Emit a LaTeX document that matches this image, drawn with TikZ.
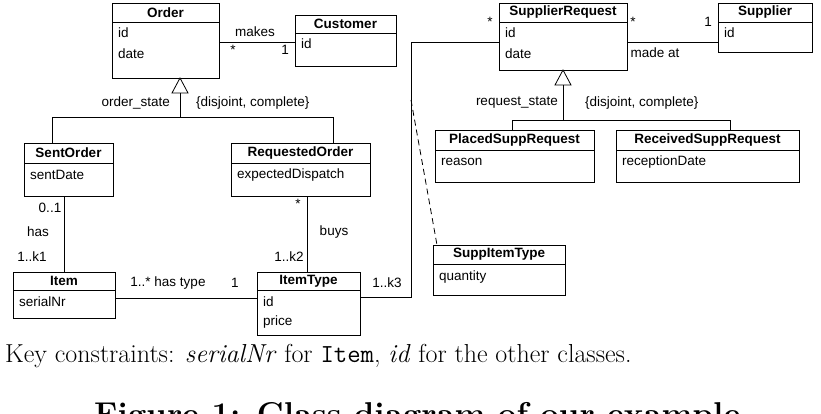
\documentclass[tikz,border=0pt]{standalone}
\usepackage{fontspec}
\setmainfont{Liberation Sans}
\newfontfamily\lmr{Latin Modern Roman}
\newfontfamily\lmtt{Latin Modern Mono}
\begin{document}
\begin{tikzpicture}[x=1pt,y=-1pt,
  box/.style={draw,line width=0.8pt},
  ttl/.style={font=\fontsize{13.5}{15}\selectfont\bfseries,anchor=center,inner sep=0},
  att/.style={font=\fontsize{13.5}{15}\selectfont,anchor=west,inner sep=0},
  lbl/.style={font=\fontsize{13.5}{15}\selectfont,inner sep=0},
  ln/.style={line width=0.8pt}]
\useasboundingbox (0,0) rectangle (821,414);
\def\cls#1#2#3#4#5#6#7{%
  \draw[box] (#2,#3) rectangle (#4,#5);
  \draw[ln] (#2,#6) -- (#4,#6);
  \node[ttl] (#1) at ({(#2+#4)/2},{(#3+#6)/2}) {#7};}
\cls{order}{112}{3}{219}{78}{22}{Order}
\node[att] (order-a) at (118,33) {id};
\node[att] (order-b) at (118,54) {date};
\cls{cust}{295}{15}{396}{66}{33}{Customer}
\node[att] (cust-a) at (301,44) {id};
\cls{sr}{499}{3}{627}{70}{22}{SupplierRequest}
\node[att] (sr-a) at (505,33) {id};
\node[att] (sr-b) at (505,54) {date};
\cls{sup}{718}{3}{812}{52}{22}{Supplier}
\node[att] (sup-a) at (724,33) {id};
\cls{sent}{24}{143}{113}{196}{163}{SentOrder}
\node[att] (sent-a) at (30,175) {sentDate};
\cls{ro}{231}{143}{370}{196}{163}{RequestedOrder}
\node[att] (ro-a) at (237,175) {expectedDispatch};
\cls{psr}{435}{130}{594}{182}{150}{PlacedSuppRequest}
\node[att] (psr-a) at (441,162) {reason};
\cls{rsr}{616}{130}{799}{182}{150}{ReceivedSuppRequest}
\node[att] (rsr-a) at (622,162) {receptionDate};
\cls{item}{13}{272}{115}{318}{290}{Item}
\node[att] (item-a) at (19,302) {serialNr};
\cls{it}{257}{272}{360}{335}{290}{ItemType}
\node[att] (it-a) at (263,302) {id};
\node[att] (it-b) at (263,322) {price};
\cls{sit}{433}{245}{565}{295}{264}{SuppItemType}
\node[att] (sit-a) at (439,277) {quantity};
\coordinate (t1) at (180,78);
\draw[ln,fill=white] (t1) -- (172,93) -- (188,93) -- cycle;
\draw[ln] (180,93) -- (180,117) (52,143) -- (52,117) -- (333,117) -- (333,143);
\node[lbl,anchor=east] (os) at (170,103) {order\_state};
\node[lbl,anchor=west] (dc1) at (196,103) {\{disjoint, complete\}};
\coordinate (t2) at (563,70);
\draw[ln,fill=white] (t2) -- (555,85) -- (571,85) -- cycle;
\draw[ln] (563,85) -- (563,120) (512,130) -- (512,120) -- (730,120) -- (730,130);
\node[lbl,anchor=east] (rs) at (558,103) {request\_state};
\node[lbl,anchor=west] (dc2) at (585,103) {\{disjoint, complete\}};
\draw[ln] (219,42) -- (295,42);
\node[lbl] (mk) at (255,32) {makes};
\node[lbl] (m1) at (233,50) {*};
\node[lbl] (m2) at (285,50) {1};
\draw[ln] (627,42) -- (718,42);
\node[lbl] (ma) at (655,53) {made at};
\node[lbl] (s1) at (633,22) {*};
\node[lbl] (s2) at (708,22) {1};
\draw[ln] (64,196) -- (64,272);
\node[lbl] (h1) at (50,208) {0..1};
\node[lbl] (h2) at (38,232) {has};
\node[lbl] (h3) at (32,257) {1..k1};
\draw[ln] (307,196) -- (307,272);
\node[lbl] (b1) at (298,204) {*};
\node[lbl] (b2) at (334,232) {buys};
\node[lbl] (b3) at (289,257) {1..k2};
\draw[ln] (115,298) -- (257,298);
\node[lbl] (t1l) at (168,283) {1..* has type};
\node[lbl] (t2l) at (235,283) {1};
\coordinate (c1) at (411,297);
\coordinate (c2) at (411,42);
\draw[ln] (360,297) -- (c1) -- (c2) -- (499,42);
\node[lbl] (k3) at (387,283) {1..k3};
\node[lbl] (s0) at (490,22) {*};
\coordinate (d0) at (411,100);
\draw[ln,dashed,dash pattern=on 6pt off 4pt] (d0) -- (437,245);
\node[anchor=west,inner sep=0,font=\lmr\fontsize{26}{30}\selectfont] (key) at (5,356)
  {Key constraints: \textit{serialNr} for {\lmtt Item}, \textit{id} for the other classes.};
\node[anchor=base west,inner sep=0,font=\lmr\fontsize{33}{38}\selectfont\bfseries] (cap) at (94,425)
  {Figure 1: Class diagram of our example};
\end{tikzpicture}
\end{document}
